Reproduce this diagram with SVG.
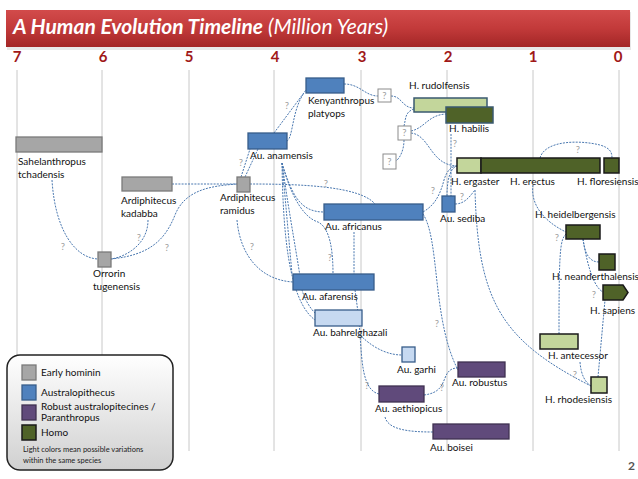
<svg xmlns="http://www.w3.org/2000/svg" width="638" height="479" viewBox="0 0 638 479">
<defs>
<linearGradient id="tg" x1="0" y1="0" x2="0" y2="1">
<stop offset="0" stop-color="#d24b4b"/>
<stop offset="0.5" stop-color="#c23a3a"/>
<stop offset="1" stop-color="#a32626"/>
</linearGradient>
<linearGradient id="lg" x1="0" y1="0" x2="0" y2="1">
<stop offset="0" stop-color="#ffffff"/>
<stop offset="1" stop-color="#d0d0d0"/>
</linearGradient>
<style>
.grid{stroke:#c8c8c8;stroke-width:1;fill:none}
.yr{font-family:Lato,"Liberation Sans",sans-serif;font-weight:bold;font-size:15px;fill:#a01818;text-anchor:middle}
.lbl{font-family:Lato,"Liberation Sans",sans-serif;font-size:10px;fill:#111}
.q{font-family:Lato,"Liberation Sans",sans-serif;font-size:9.5px;fill:#a0a0a0;text-anchor:middle}
.con{fill:none;stroke:#4a78b0;stroke-width:1;stroke-dasharray:2 1.2}
.early{fill:#a6a6a6;stroke:#7a7a7a;stroke-width:1.3}
.aus{fill:#4f81bd;stroke:#385d8a;stroke-width:1.3}
.ausl{fill:#c6d9f1;stroke:#385d8a;stroke-width:1.3}
.rob{fill:#604a7b;stroke:#3f3151;stroke-width:1.3}
.homo{fill:#4f6228;stroke:#1a1a1a;stroke-width:1.5}
.homob{fill:#4f6228;stroke:#3a5a70;stroke-width:1.5}
.homol{fill:#c3d69b;stroke:#1a1a1a;stroke-width:1.5}
.homolb{fill:#c3d69b;stroke:#3a5a70;stroke-width:1.5}
.qb{fill:#fff;stroke:#8c8c8c;stroke-width:1}
.leg{font-family:Lato,"Liberation Sans",sans-serif;font-size:10px;fill:#111}
</style>
</defs>
<rect width="638" height="479" fill="#fff"/>
<g id="title">
<rect x="7" y="12" width="624" height="38" fill="#d8d8d8" opacity="0.6"/>
<rect x="6" y="10" width="624" height="37" fill="url(#tg)"/>
<text x="13" y="34" font-family="Lato,'Liberation Sans',sans-serif" font-size="21" fill="#fff" font-style="italic"><tspan font-weight="bold">A Human Evolution Timeline</tspan> (Million Years)</text>
</g>
<g id="axis">
<text class="yr" x="17" y="62">7</text>
<text class="yr" x="103" y="62">6</text>
<text class="yr" x="189" y="62">5</text>
<text class="yr" x="275" y="62">4</text>
<text class="yr" x="362" y="62">3</text>
<text class="yr" x="448" y="62">2</text>
<text class="yr" x="533" y="62">1</text>
<text class="yr" x="618" y="62">0</text>
<path class="grid" d="M17,70V355M102,70V355M189,70V451M274,70V451M361,70V451M447,70V451M533,70V451M619,70V451"/>
</g>
<g id="connectors">
<path class="con" d="M52,180 C55,230 75,258 98,259"/>
<path class="con" d="M148,220 C148,245 125,257 111,259"/>
<path class="con" d="M111,259 C150,255 165,240 175,215 C185,190 210,186 237,184"/>
<path class="con" d="M172,184 L237,184"/>
<path class="con" d="M241,177 L250,149 M245,177 L258,149"/>
<path class="con" d="M274,133 L306,90 M287,141 C293,138 292,110 304,93"/>
<path class="con" d="M344,84 C360,84 365,96 378,96 M391,96 C402,96 402,108 414,108"/>
<path class="con" d="M414,109 C405,112 406,118 404,126"/>
<path class="con" d="M411,131 C425,128 428,115 446,114"/>
<path class="con" d="M411,133 C430,135 430,165 457,166"/>
<path class="con" d="M404,140 C404,150 400,158 396,161"/>
<path class="con" d="M451,134 L451,196"/>
<path class="con" d="M423,212 C435,205 440,195 444,180 C447,170 452,166 457,166"/>
<path class="con" d="M447,196 C447,180 450,168 457,166"/>
<path class="con" d="M455,204 C465,204 470,196 475,190"/>
<path class="con" d="M475,190 C478,300 500,340 591,386"/>
<path class="con" d="M423,214 C440,240 432,320 458,370"/>
<path class="con" d="M540,158 C545,140 580,140 600,145 C610,148 612,152 612,158"/>
<path class="con" d="M533,185 C530,205 545,222 566,232"/>
<path class="con" d="M583,239 C585,255 590,262 599,262"/>
<path class="con" d="M583,239 C588,270 595,288 603,292"/>
<path class="con" d="M566,234 C560,240 559,250 559,334"/>
<path class="con" d="M598,377 L605,300"/>
<path class="con" d="M580,362 C581,375 585,382 591,386"/>
<path class="con" d="M250,184 C300,184 360,186 375,204"/>
<path class="con" d="M237,220 C240,255 260,280 293,282"/>
<path class="con" d="M282,163 C292,195 300,212 324,212"/>
<path class="con" d="M282,163 C292,200 305,218 318,222 C330,228 333,250 333,274"/>
<path class="con" d="M282,163 C290,220 298,260 302,290 C305,300 310,308 315,313"/>
<path class="con" d="M282,163 L292,274"/>
<path class="con" d="M282,163 C283,230 288,300 315,320"/>
<path class="con" d="M354,232 L354,274"/>
<path class="con" d="M355,290 C357,305 359,318 360,335 C362,360 362,390 379,394"/>
<path class="con" d="M360,335 C375,350 390,355 402,355"/>
<path class="con" d="M424,395 C440,393 442,385 445,378 C448,370 452,368 458,368"/>
<path class="con" d="M385,417 C388,430 410,432 433,432"/>
<text class="q" x="63" y="250">?</text>
<text class="q" x="139" y="241">?</text>
<text class="q" x="167" y="251">?</text>
<text class="q" x="241" y="166">?</text>
<text class="q" x="287" y="109">?</text>
<text class="q" x="455" y="147">?</text>
<text class="q" x="433" y="194">?</text>
<text class="q" x="462" y="200">?</text>
<text class="q" x="437" y="327">?</text>
<text class="q" x="578" y="153">?</text>
<text class="q" x="557" y="241">?</text>
<text class="q" x="594" y="298">?</text>
<text class="q" x="575" y="378">?</text>
<text class="q" x="326" y="187">?</text>
<text class="q" x="252" y="250">?</text>
<text class="q" x="330" y="261">?</text>
<text class="q" x="367" y="389">?</text>
<text class="q" x="442" y="391">?</text>
</g>
<g id="qbox1"><rect class="qb" x="378" y="89" width="13" height="13"/><text class="q" x="384.5" y="99">?</text></g>
<g id="qbox2"><rect class="qb" x="398" y="126" width="13" height="14"/><text class="q" x="404.5" y="136">?</text></g>
<g id="qbox3"><rect class="qb" x="383" y="154" width="13" height="15"/><text class="q" x="389.5" y="165">?</text></g>
<g id="sahelanthropus"><rect class="early" x="16" y="137" width="86" height="15"/><text class="lbl" x="18" y="165">Sahelanthropus</text><text class="lbl" x="18" y="178">tchadensis</text></g>
<g id="kadabba"><rect class="early" x="122" y="177" width="50" height="14"/><text class="lbl" x="121" y="204">Ardiphitecus</text><text class="lbl" x="121" y="217">kadabba</text></g>
<g id="orrorin"><rect class="early" x="98" y="252" width="13" height="15"/><text class="lbl" x="93" y="277">Orrorin</text><text class="lbl" x="93" y="290">tugenensis</text></g>
<g id="ramidus"><rect class="early" x="237" y="177" width="13" height="15"/><text class="lbl" x="220" y="201">Ardiphitecus</text><text class="lbl" x="220" y="214">ramidus</text></g>
<g id="anamensis"><rect class="aus" x="248" y="133" width="39" height="16"/><text class="lbl" x="250" y="159">Au. anamensis</text></g>
<g id="kenyanthropus"><rect class="aus" x="306" y="78" width="38" height="15"/><text class="lbl" x="308" y="104">Kenyanthropus</text><text class="lbl" x="308" y="117">platyops</text></g>
<g id="rudolfensis"><rect class="homolb" x="414" y="98" width="73" height="14"/><text class="lbl" x="409" y="89">H. rudolfensis</text></g>
<g id="habilis"><rect class="homob" x="446" y="107" width="47" height="16"/><text class="lbl" x="449" y="132">H. habilis</text></g>
<g id="ergaster"><rect class="homol" x="457" y="158" width="24" height="15"/><text class="lbl" x="451" y="185">H. ergaster</text></g>
<g id="erectus"><rect class="homo" x="481" y="158" width="119" height="15"/><text class="lbl" x="510" y="185">H. erectus</text></g>
<g id="floresiensis"><rect class="homo" x="604" y="158" width="15" height="15"/><text class="lbl" x="577" y="185">H. floresiensis</text></g>
<g id="sediba"><rect class="aus" x="442" y="196" width="13" height="16"/><text class="lbl" x="440" y="222">Au. sediba</text></g>
<g id="africanus"><rect class="aus" x="324" y="204" width="99" height="16"/><text class="lbl" x="325" y="230">Au. africanus</text></g>
<g id="afarensis"><rect class="aus" x="293" y="274" width="81" height="16"/><text class="lbl" x="302" y="300">Au. afarensis</text></g>
<g id="bahrelghazali"><rect class="ausl" x="315" y="310" width="47" height="16"/><text class="lbl" x="313" y="336">Au. bahrelghazali</text></g>
<g id="garhi"><rect class="ausl" x="402" y="347" width="13" height="15"/><text class="lbl" x="397" y="373">Au. garhi</text></g>
<g id="aethiopicus"><rect class="rob" x="379" y="386" width="45" height="16"/><text class="lbl" x="375" y="412">Au. aethiopicus</text></g>
<g id="boisei"><rect class="rob" x="433" y="424" width="76" height="15"/><text class="lbl" x="430" y="451">Au. boisei</text></g>
<g id="robustus"><rect class="rob" x="458" y="362" width="47" height="15"/><text class="lbl" x="452" y="386">Au. robustus</text></g>
<g id="heidelbergensis"><rect class="homo" x="566" y="225" width="34" height="14"/><text class="lbl" x="535" y="218">H. heidelbergensis</text></g>
<g id="neanderthalensis"><rect class="homo" x="599" y="254" width="16" height="16"/><text class="lbl" x="552" y="280" font-size="9.5">H. neanderthalensis</text></g>
<g id="sapiens"><path class="homo" d="M603,285 H623 L628,292.5 L623,300 H603 Z"/><text class="lbl" x="590" y="314">H. sapiens</text></g>
<g id="antecessor"><rect class="homol" x="540" y="334" width="38" height="15"/><text class="lbl" x="548" y="359">H. antecessor</text></g>
<g id="rhodesiensis"><rect class="homol" x="591" y="377" width="16" height="16"/><text class="lbl" x="545" y="403">H. rhodesiensis</text></g>
<g id="legend">
<rect x="7" y="355" width="166" height="115" rx="13" ry="13" fill="url(#lg)" stroke="#222" stroke-width="1.5"/>
<rect class="early" x="22" y="365" width="14" height="15"/><text class="leg" x="41" y="376">Early hominin</text>
<rect class="aus" x="22" y="385" width="14" height="15"/><text class="leg" x="41" y="396">Australopithecus</text>
<rect class="rob" x="22" y="405" width="14" height="15"/><text class="leg" x="41" y="410" font-size="9.5">Robust australopitecines /</text><text class="leg" x="41" y="421" font-size="9.5">Paranthropus</text>
<rect class="homo" x="22" y="425" width="14" height="15"/><text class="leg" x="41" y="436">Homo</text>
<text x="23" y="452" font-family="Lato,'Liberation Sans',sans-serif" font-size="7.5" fill="#222">Light colors mean possible variations</text>
<text x="23" y="463" font-family="Lato,'Liberation Sans',sans-serif" font-size="7.5" fill="#222">within the same species</text>
</g>
<text x="628" y="470" font-family="Lato,'Liberation Sans',sans-serif" font-size="12" font-weight="bold" fill="#555">2</text>
</svg>
